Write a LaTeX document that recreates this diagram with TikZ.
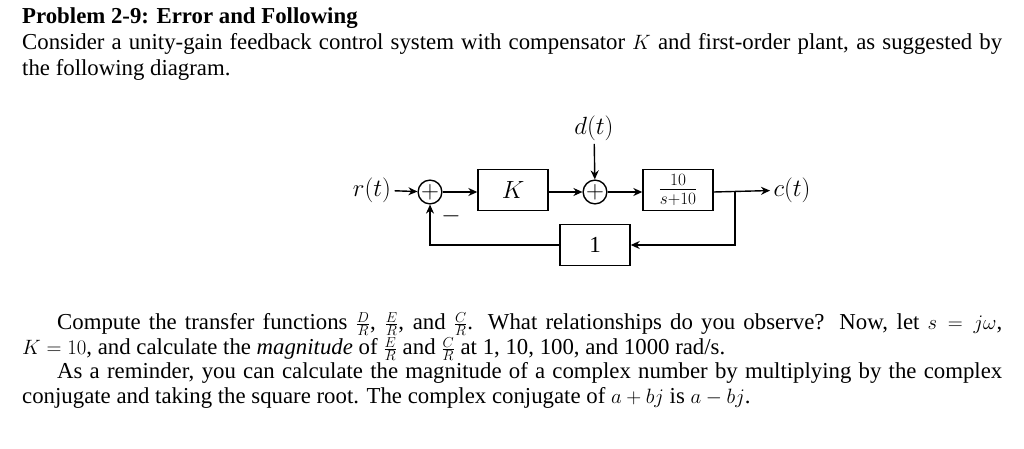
\documentclass[tikz,border=0pt]{standalone}
\usepackage{amsmath}
\usepackage{fontspec}
\setmainfont{Liberation Serif}
\usetikzlibrary{arrows.meta}
\newcommand{\fr}[2]{{\fontsize{19}{19}\selectfont$\tfrac{#1}{#2}$}}
\begin{document}
\begin{tikzpicture}[x=1pt,y=-1pt,
  dfont/.style={font=\fontsize{23}{26}\selectfont},
  blk/.style={draw,line width=1.4pt,minimum width=70pt,minimum height=41pt,dfont},
  sm/.style={draw,circle,line width=1.4pt,minimum size=22pt,inner sep=0pt,font=\fontsize{24}{24}\selectfont},
  ln/.style={line width=1.4pt,-{Stealth[length=9pt,width=8pt]}},
  txt/.style={anchor=base west,inner sep=0pt,font=\fontsize{22.8}{24}\selectfont}]
\useasboundingbox (0,0) rectangle (1024,449);
\node[txt] (t1) at (22,24) {\textbf{Problem 2-9: Error and Following}};
\node[txt] (t2) at (22,50) {\hbox to 980pt{Consider a unity-gain feedback control system with compensator $K$ and first-order plant, as suggested by}};
\node[txt] (t3) at (22,76) {the following diagram.};
\node[txt] (p1) at (57,329) {\hbox to 945pt{Compute the transfer functions \fr{D}{R}, \fr{E}{R}, and \fr{C}{R}. What relationships do you observe? Now, let $s=j\omega$,}};
\node[txt] (p2) at (22,354) {$K=10$, and calculate the \textit{magnitude} of \fr{E}{R} and \fr{C}{R} at 1, 10, 100, and 1000 rad/s.};
\node[txt] (p3) at (57,378) {\hbox to 945pt{As a reminder, you can calculate the magnitude of a complex number by multiplying by the complex}};
\node[txt] (p4) at (22,403) {conjugate and taking the square root. The complex conjugate of $a+bj$ is $a-bj$.};
% diagram
\node[dfont] (r) at (372,190) {$r(t)$};
\node[sm] (s1) at (430,192) {$+$};
\node[blk] (K) at (513,190) {$K$};
\node[sm] (s2) at (595,192) {$+$};
\node[dfont] (d) at (594,128) {$d(t)$};
\node[blk] (G) at (678,190) {$\frac{10}{s+10}$};
\node[dfont] (c) at (792,190) {$c(t)$};
\node[blk] (H) at (595,245) {1};
\node[dfont] (m) at (451,216) {$-$};
\coordinate (br) at (735,192);
\draw[ln] (r) -- (s1);
\draw[ln] (s1) -- (K.west|-s1);
\draw[ln] (K.east|-s2) -- (s2);
\draw[ln] (d) -- (s2);
\draw[ln] (s2) -- (G.west|-s2);
\draw[ln] (G.east|-br) -- (c);
\draw[ln] (br) |- (H.east);
\draw[ln] (H.west) -| (s1.south);
\end{tikzpicture}
\end{document}
